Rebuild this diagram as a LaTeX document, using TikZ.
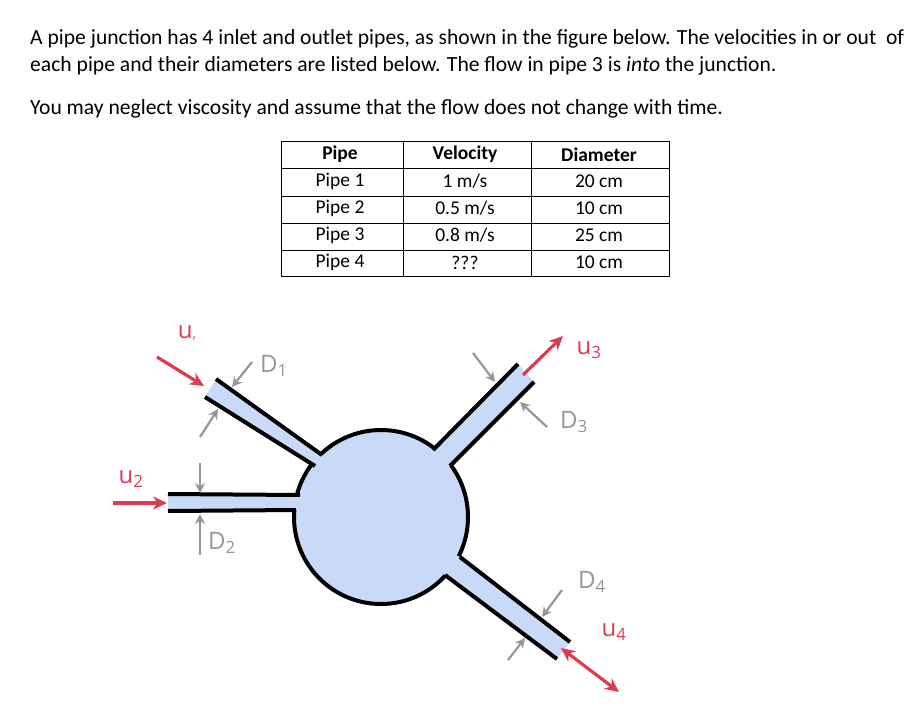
\documentclass[tikz,border=0pt]{standalone}
\usepackage{fontspec}
\setmainfont{Carlito}
\newfontfamily\hand{Open Sans}
\usetikzlibrary{arrows.meta}
\definecolor{pipeblue}{RGB}{200,218,248}
\definecolor{ured}{RGB}{220,60,80}
\definecolor{dgray}{RGB}{150,150,150}
\tikzset{
  txt/.style={anchor=base west,inner sep=0pt,font=\fontsize{21.6}{24}\selectfont},
  cell/.style={inner sep=0pt,font=\fontsize{19.5}{21}\selectfont},
  edge/.style={line width=4pt},
  uarrow/.style={ured,line width=3.2pt,-{Stealth[length=14pt,width=13pt]}},
  darrow/.style={dgray,line width=2.2pt,-{Stealth[length=10pt,width=10pt]}},
  ulab/.style={ured,font=\hand\fontsize{24}{24}\selectfont},
  dlab/.style={dgray,font=\hand\fontsize{24}{24}\selectfont}
}
\begin{document}
\begin{tikzpicture}[x=1pt,y=-1pt]
\useasboundingbox (0,0) rectangle (920,715);
\node[txt] (l1) at (30,44) {A pipe junction has 4 inlet and outlet pipes, as shown in the figure below. The velocities in or out\ \ of};
\node[txt] (l2) at (30,71) {each pipe and their diameters are listed below. The flow in pipe 3 is \textit{into} the junction.};
\node[txt] (l3) at (30,114) {You may neglect viscosity and assume that the flow does not change with time.};
% table
\draw[line width=1pt] (281,141) rectangle (669,276);
\foreach \y in {168,196,223,250} \draw[line width=1pt] (281,\y) -- (669,\y);
\foreach \x in {403,531} \draw[line width=1pt] (\x,141) -- (\x,276);
\foreach \r/\a/\b [count=\i] in {{Pipe 1}/{1 m/s}/{20 cm},{Pipe 2}/{0.5 m/s}/{10 cm},{Pipe 3}/{0.8 m/s}/{25 cm},{Pipe 4}/{???}/{10 cm}}{
  \pgfmathsetmacro\yy{154.5+27*\i}
  \node[cell] (p\i) at (340,\yy) {\r};
  \node[cell] (v\i) at (465,\yy) {\a};
  \node[cell] (d\i) at (599,\yy) {\b};
}
\node[cell,font=\bfseries\fontsize{19.5}{21}\selectfont] (hp) at (340,154.5) {Pipe};
\node[cell,font=\bfseries\fontsize{19.5}{21}\selectfont] (hv) at (465,154.5) {Velocity};
\node[cell,font=\bfseries\fontsize{19.5}{21}\selectfont] (hd) at (599,154.5) {Diameter};
% junction
\coordinate (C) at (381,517);
\fill[pipeblue] (C) circle (87);
\draw[edge] (C) circle (87);
\coordinate (e1a) at (216,379); \coordinate (m1a) at (322,455); \coordinate (m1b) at (315,466); \coordinate (e1b) at (205,397);
\coordinate (e2a) at (168,494); \coordinate (m2a) at (300,495); \coordinate (m2b) at (296,510); \coordinate (e2b) at (168,511);
\coordinate (e3a) at (518,364); \coordinate (m3a) at (433,450); \coordinate (m3b) at (450,466); \coordinate (e3b) at (534,382);
\coordinate (e4a) at (570,642); \coordinate (m4a) at (460,557); \coordinate (m4b) at (445,575); \coordinate (e4b) at (557,659);
\foreach \i in {1,2,3,4}{
  \fill[pipeblue] (e\i a) -- (m\i a) -- (C) -- (m\i b) -- (e\i b) -- cycle;
  \draw[edge] (e\i a) -- (m\i a);
  \draw[edge] (e\i b) -- (m\i b);
}
% velocity arrows
\coordinate (a1s) at (157,357); \coordinate (a1e) at (204,386);
\coordinate (a2s) at (113,503); \coordinate (a2e) at (167,503);
\coordinate (a3s) at (523,375); \coordinate (a3e) at (563,336);
\coordinate (a4s) at (561,648); \coordinate (a4e) at (619,692);
\draw[uarrow] (a1s) -- (a1e);
\draw[uarrow] (a2s) -- (a2e);
\draw[uarrow] (a3s) -- (a3e);
\draw[uarrow,{Stealth[length=14pt,width=13pt]}-{Stealth[length=14pt,width=13pt]}] (a4s) -- (a4e);
\node[ulab] (u1) at (187,333) {u\raisebox{0pt}{\fontsize{14}{14}\selectfont ,}};
\node[ulab] (u2) at (131,479) {u\textsubscript{2}};
\node[ulab] (u3) at (589,350) {u\textsubscript{3}};
\node[ulab] (u4) at (614,632) {u\textsubscript{4}};
% diameter arrows
\coordinate (b1) at (252,362); \coordinate (b2) at (232,387);
\coordinate (b3) at (200,437); \coordinate (b4) at (218,409);
\coordinate (b5) at (200,463); \coordinate (b6) at (200,493);
\coordinate (b7) at (200,555); \coordinate (b8) at (200,514);
\coordinate (b9) at (473,353); \coordinate (b10) at (495,382);
\coordinate (b11) at (547,427); \coordinate (b12) at (520,402);
\coordinate (b13) at (562,590); \coordinate (b14) at (542,617);
\coordinate (b15) at (508,660); \coordinate (b16) at (525,638);
\foreach \s/\e in {b1/b2,b3/b4,b5/b6,b7/b8,b9/b10,b11/b12,b13/b14,b15/b16}
  \draw[darrow] (\s) -- (\e);
\node[dlab] (D1) at (274,366) {D\textsubscript{1}};
\node[dlab] (D2) at (222,543) {D\textsubscript{2}};
\node[dlab] (D3) at (574,422) {D\textsubscript{3}};
\node[dlab] (D4) at (592,582) {D\textsubscript{4}};
\end{tikzpicture}
\end{document}
